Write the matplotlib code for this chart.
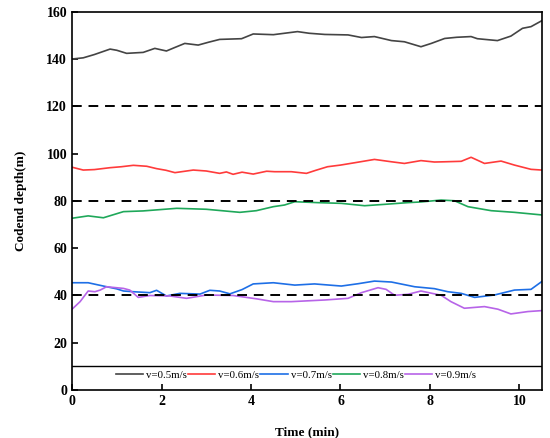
import matplotlib
matplotlib.use("Agg")
import matplotlib.pyplot as plt

plt.rcParams['font.family'] = ['Liberation Serif', 'DejaVu Serif']

# v=0.5 m/s
t05 = [0.0, 0.25, 0.5, 0.85, 1.0, 1.22, 1.59, 1.85, 2.11, 2.3, 2.52, 2.82, 3.05, 3.3, 3.79, 4.05, 4.5, 5.04, 5.3, 5.65, 6.17, 6.47, 6.76, 7.14, 7.43, 7.8, 8.03, 8.33, 8.6, 8.92, 9.06, 9.51, 9.81, 10.07, 10.26, 10.5]
d05 = [140.1, 140.6, 142.0, 144.3, 143.8, 142.5, 142.9, 144.6, 143.5, 145.0, 146.7, 146.0, 147.2, 148.4, 148.7, 150.7, 150.4, 151.7, 151.0, 150.5, 150.3, 149.2, 149.6, 147.9, 147.4, 145.3, 146.7, 148.8, 149.3, 149.6, 148.7, 147.9, 149.8, 153.1, 153.8, 156.3]

# v=0.6 m/s
t06 = [0.0, 0.25, 0.5, 0.85, 1.1, 1.37, 1.67, 1.89, 2.1, 2.3, 2.71, 3.0, 3.3, 3.45, 3.6, 3.8, 4.05, 4.35, 4.53, 4.9, 5.24, 5.45, 5.71, 6.0, 6.32, 6.76, 7.14, 7.43, 7.8, 8.1, 8.33, 8.7, 8.92, 9.22, 9.59, 9.89, 10.26, 10.5]
d06 = [94.3, 93.1, 93.3, 94.1, 94.5, 95.1, 94.7, 93.7, 93.0, 92.0, 93.1, 92.7, 91.7, 92.3, 91.3, 92.2, 91.4, 92.6, 92.4, 92.4, 91.7, 93.0, 94.5, 95.2, 96.2, 97.6, 96.6, 95.9, 97.1, 96.5, 96.6, 96.8, 98.5, 95.9, 96.9, 95.2, 93.4, 93.1]

# v=0.7 m/s
t07 = [0.0, 0.36, 0.7, 1.0, 1.15, 1.37, 1.74, 1.89, 2.11, 2.41, 2.86, 3.08, 3.3, 3.53, 3.8, 4.05, 4.5, 4.98, 5.42, 6.02, 6.4, 6.76, 7.14, 7.66, 8.1, 8.4, 8.7, 9.0, 9.44, 9.89, 10.26, 10.5]
d07 = [45.4, 45.4, 44.0, 42.8, 41.9, 41.6, 41.2, 42.2, 39.8, 40.9, 40.6, 42.2, 41.9, 40.7, 42.5, 44.9, 45.4, 44.4, 44.9, 44.0, 45.0, 46.1, 45.7, 43.7, 42.9, 41.6, 40.9, 39.2, 40.2, 42.3, 42.6, 45.9]

# v=0.8 m/s
t08 = [0.0, 0.36, 0.7, 1.15, 1.59, 2.34, 3.0, 3.75, 4.12, 4.5, 4.75, 4.98, 5.5, 6.02, 6.54, 7.0, 7.5, 7.8, 8.25, 8.55, 8.85, 9.37, 9.89, 10.5]
d08 = [72.7, 73.7, 72.9, 75.5, 75.8, 76.9, 76.5, 75.2, 75.9, 77.6, 78.3, 79.7, 79.3, 79.0, 78.0, 78.6, 79.3, 79.6, 80.4, 80.1, 77.6, 75.9, 75.2, 74.1]

# v=0.9 m/s
t09 = [0.0, 0.18, 0.36, 0.51, 0.63, 0.77, 1.15, 1.29, 1.48, 1.74, 2.19, 2.56, 3.0, 3.6, 4.12, 4.5, 4.9, 5.65, 6.17, 6.47, 6.84, 7.02, 7.21, 7.51, 7.8, 8.25, 8.47, 8.77, 9.22, 9.52, 9.81, 10.19, 10.5]
d09 = [34.2, 37.4, 41.9, 41.6, 42.3, 43.7, 43.0, 42.3, 39.2, 40.0, 39.8, 38.8, 40.2, 40.0, 38.6, 37.4, 37.4, 38.1, 38.8, 41.2, 43.3, 42.6, 40.1, 40.5, 41.9, 40.1, 37.4, 34.6, 35.3, 34.2, 32.2, 33.2, 33.6]

labels = ['v=0.5m/s', 'v=0.6m/s', 'v=0.7m/s', 'v=0.8m/s', 'v=0.9m/s']
colors = ['#444444', '#ff3b3b', '#1e6fe6', '#1fa85a', '#b764e8']
ref_levels = [120, 80, 40]
xticks = [0, 2, 4, 6, 8, 10]
yticks = [0, 20, 40, 60, 80, 100, 120, 140, 160]

fig = plt.figure(figsize=(5.5, 4.38), dpi=100)
ax = fig.add_axes([0.131, 0.1096, 0.854, 0.863])

series = [(t05, d05), (t06, d06), (t07, d07), (t08, d08), (t09, d09)]
handles = []
for (t, d), lab, c in zip(series, labels, colors):
    h, = ax.plot(t, d, color=c, lw=1.2, label=lab)
    handles.append(h)

for lv in ref_levels:
    ax.axhline(lv, color='black', lw=1.4, ls=(0, (5, 3.5)))

ax.axhline(10, color='black', lw=1.0)

ax.set_xlim(0, 10.5)
ax.set_ylim(0, 160)
ax.set_xticks(xticks)
ax.set_yticks(yticks)
ax.tick_params(direction='in', length=4, width=1.2, labelsize=10, top=False, right=False)
for lab in ax.get_xticklabels() + ax.get_yticklabels():
    lab.set_fontweight('bold')
for s in ax.spines.values():
    s.set_linewidth(1.2)

ax.set_xlabel('Time (min)', fontsize=9.5, fontweight='bold', labelpad=13)
ax.set_ylabel('Codend depth(m)', fontsize=9.5, fontweight='bold', labelpad=14)

leg = ax.legend(handles=handles, loc='center', bbox_to_anchor=(0.477, 0.04), ncol=5,
                frameon=False, fontsize=7.8, handlelength=2.5, handletextpad=0.3,
                columnspacing=0.1, borderaxespad=0)

fig.savefig('out.png', dpi=100)
